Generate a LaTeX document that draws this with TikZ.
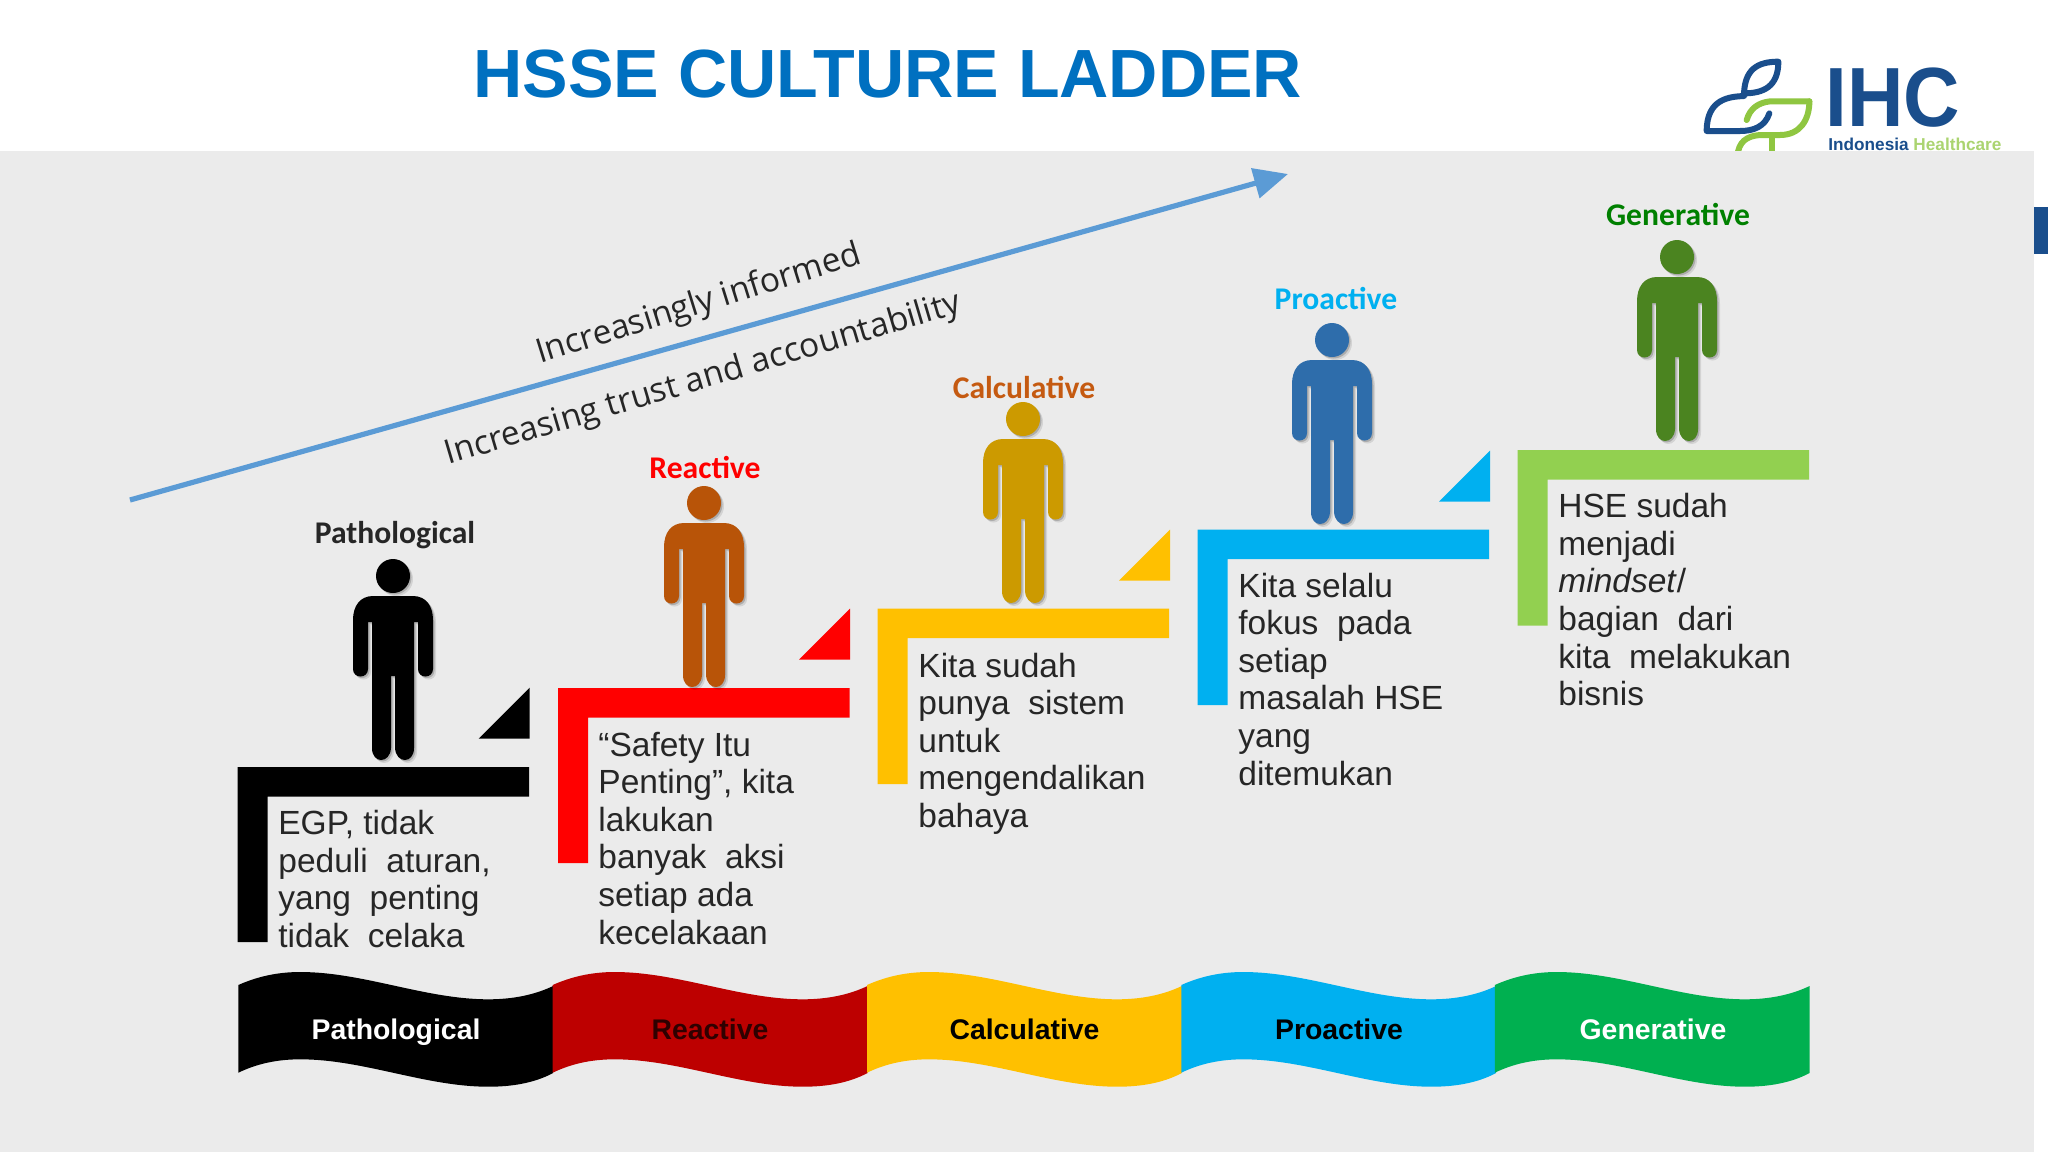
\documentclass[tikz,border=0pt]{standalone}
\usepackage{fontspec}
\setmainfont{Liberation Sans}
\newfontfamily\carlito{Carlito}
\newfontfamily\opensans{Open Sans}
\usetikzlibrary{arrows.meta}
\definecolor{panel}{HTML}{EBEBEB}
\definecolor{ihcblue}{HTML}{1A4E8C}
\definecolor{ihcgreen}{HTML}{8FC641}
\definecolor{titleblue}{HTML}{0070C0}
\definecolor{arrowblue}{HTML}{5B9BD5}
\definecolor{wred}{HTML}{BD0000}
\definecolor{wyellow}{HTML}{FFC000}
\definecolor{wblue}{HTML}{00B0F0}
\definecolor{wgreen}{HTML}{00B050}
\definecolor{sgreen}{HTML}{92D050}
\definecolor{porange}{HTML}{B85408}
\definecolor{pyellow}{HTML}{CC9A00}
\definecolor{pblue}{HTML}{2E6DAB}
\definecolor{pgreen}{HTML}{4B8420}
\definecolor{lorange}{HTML}{C55A11}
\definecolor{lgreen}{HTML}{008000}
\newcommand{\hsefigure}[3]{%
  \begin{scope}[shift={(#1,#2)}]
    \foreach \sx/\sop in {3/.10,1.5/.18}{
      \fill[black,opacity=\sop,shift={(\sx,\sx)}] (0,0) circle (17)
        (-20,20) -- (20,20) .. controls (33,20) and (40,30) .. (40,44) -- (40,93) .. controls (40,103) and (25,103) .. (25,93) -- (25,46) -- (21,46) -- (21,172) .. controls (21,188) and (3,188) .. (2,172) -- (2,100) -- (-2,100) -- (-2,172) .. controls (-3,188) and (-21,188) .. (-21,172) -- (-21,46) -- (-25,46) -- (-25,93) .. controls (-25,103) and (-40,103) .. (-40,93) -- (-40,44) .. controls (-40,30) and (-33,20) .. (-20,20) -- cycle;
    }
    \fill[#3] (0,0) circle (17)
      (-20,20) -- (20,20) .. controls (33,20) and (40,30) .. (40,44) -- (40,93) .. controls (40,103) and (25,103) .. (25,93) -- (25,46) -- (21,46) -- (21,172) .. controls (21,188) and (3,188) .. (2,172) -- (2,100) -- (-2,100) -- (-2,172) .. controls (-3,188) and (-21,188) .. (-21,172) -- (-21,46) -- (-25,46) -- (-25,93) .. controls (-25,103) and (-40,103) .. (-40,93) -- (-40,44) .. controls (-40,30) and (-33,20) .. (-20,20) -- cycle;
  \end{scope}}
\newcommand{\hsestep}[4]{% x, top, bottom, colour
  \fill[#4] (#1,#2) -- ++(291.5,0) -- ++(0,29.5) -- ++(-261.5,0) |- (#1,#3) -- cycle;}
\newcommand{\hsewedge}[3]{% right x, bottom y, colour
  \fill[#3] (#1,#2) -- ++(-51,0) -- ++(51,-51) -- cycle;}
\newcommand{\hsewave}[2]{% left x, colour
  \fill[#2,shift={(#1,985)}] (0,0) .. controls (18,-8) and (38,-13) .. (62,-13)
    .. controls (125,-13) and (187,14.3) .. (250,14.3)
    .. controls (274,14.3) and (296,10) .. (314.8,1)
    -- (314.8,88)
    .. controls (296,98) and (274,101.7) .. (250,101.7)
    .. controls (187,101.7) and (125,74.3) .. (62,74.3)
    .. controls (38,74.3) and (18,79) .. (0,87.7) -- cycle;}
\tikzset{
  bodytext/.style={anchor=north west,inner sep=0pt,align=left,font=\fontsize{16.75}{18.8}\selectfont,text=black!85},
  steplabel/.style={inner sep=0pt,font=\fontsize{15.8}{18}\carlito\bfseries},
  bandlabel/.style={anchor=base,inner sep=0pt,font=\fontsize{14.2}{16}\selectfont\bfseries},
  slanted/.style={inner sep=0pt,text=black!85,font=\fontsize{16.75}{18}\opensans},
  logoline/.style={line width=3pt,line cap=round,line join=round}
}
\begin{document}
\begin{tikzpicture}[x=0.5pt,y=-0.5pt]
\useasboundingbox (0,0) rectangle (2048,1152);
\fill[white] (0,0) rectangle (2048,1152);
% logo
\begin{scope}[shift={(1650,30)},x=0.1666667pt,y=-0.1666667pt]
  \draw[logoline,ihcblue] (385,95) .. controls (320,95) and (285,120) .. (282,190)
     .. controls (340,190) and (385,170) .. (385,95) -- cycle;
  \draw[logoline,ihcblue] (282,198) .. controls (240,200) and (170,205) .. (170,303)
     -- (270,303) .. controls (310,303) and (345,290) .. (358,250);
  \draw[logoline,ihcgreen] (478,214) -- (360,214) .. controls (325,218) and (300,235) .. (290,270);
  \draw[logoline,ihcgreen] (478,214) .. controls (478,270) and (450,315) .. (390,315)
     -- (330,315) .. controls (290,318) and (265,335) .. (262,380);
  \draw[logoline,ihcgreen] (365,320) -- (365,380);
\end{scope}
\node[name=ihcword,anchor=base west,inner sep=0pt,xscale=.93,text=ihcblue,font=\fontsize{42}{42}\selectfont\bfseries] at (1825,126.5) {IHC};
\node[name=ihcsub,anchor=base west,inner sep=0pt,font=\fontsize{8.6}{9}\selectfont\bfseries] at (1828,150) {\textcolor{ihcblue}{Indonesia} \textcolor{ihcgreen!75!white}{Healthcare}};
% panel
\fill[panel] (0,151) rectangle (2033.5,1152);
\fill[ihcblue] (2034,207) rectangle (2048,254);
% title
\node[name=title,inner sep=0pt,text=titleblue,font=\fontsize{34.1}{36}\selectfont\bfseries] at (888,74.5) {HSSE CULTURE LADDER};
% arrow
\coordinate (arrowstart) at (130,500);
\coordinate (arrowtip) at (1288,174);
\draw[arrowblue,line width=2.6pt,-{Triangle[length=17pt,width=15pt]}] (arrowstart) -- (arrowtip);
\node[name=informed,slanted,rotate=17.3] at (699,305) {Increasingly informed};
\node[name=trust,slanted,rotate=16.5] at (703,380) {Increasing trust and accountability};
% steps
\hsestep{237.7}{767}{942}{black}
\hsestep{558}{688}{863}{red}
\hsestep{877.6}{608.5}{784}{wyellow}
\hsestep{1197.6}{529.5}{705}{wblue}
\hsestep{1517.6}{450}{625.6}{sgreen}
\hsewedge{529.6}{738.7}{black}
\hsewedge{850}{659.7}{red}
\hsewedge{1170}{580.7}{wyellow}
\hsewedge{1490}{501.7}{wblue}
% figures
\hsefigure{393}{576}{black}
\hsefigure{704}{503}{porange}
\hsefigure{1023}{419}{pyellow}
\hsefigure{1332}{340}{pblue}
\hsefigure{1677}{257}{pgreen}
% figure labels
\node[name=lpath,steplabel,text=black!85] at (395,535) {Pathological};
\node[name=lreac,steplabel,text=red] at (705,467.5) {Reactive};
\node[name=lcalc,steplabel,text=lorange] at (1024,387) {Calculative};
\node[name=lproa,steplabel,text=wblue] at (1336,298) {Proactive};
\node[name=lgene,steplabel,text=lgreen] at (1678,214) {Generative};
% descriptions
\node[name=tpath,bodytext] at (278,810) {EGP, tidak\\peduli~~aturan,\\yang~~penting\\tidak~~celaka};
\node[name=treac,bodytext] at (598,731.5) {“Safety Itu\\Penting”, kita\\lakukan\\banyak~~aksi\\setiap ada\\kecelakaan};
\node[name=tcalc,bodytext] at (918,652.5) {Kita sudah\\punya~~sistem\\untuk\\mengendalikan\\bahaya};
\node[name=tproa,bodytext] at (1238,572.5) {Kita selalu\\fokus~~pada\\setiap\\masalah HSE\\yang\\ditemukan};
\node[name=tgene,bodytext] at (1558,493) {HSE sudah\\menjadi\\\textit{mindset}/\\bagian~~dari\\kita~~melakukan\\bisnis};
% wave band
\hsewave{238.3}{black}
\hsewave{552.7}{wred}
\hsewave{867}{wyellow}
\hsewave{1181.3}{wblue}
\hsewave{1494.8}{wgreen}
\node[name=bpath,bandlabel,text=white] at (396,1039) {Pathological};
\node[name=breac,bandlabel,text=black!75!wred] at (710,1039) {Reactive};
\node[name=bcalc,bandlabel,text=black] at (1024.5,1039) {Calculative};
\node[name=bproa,bandlabel,text=black] at (1339,1039) {Proactive};
\node[name=bgene,bandlabel,text=white] at (1653,1039) {Generative};
\end{tikzpicture}
\end{document}
